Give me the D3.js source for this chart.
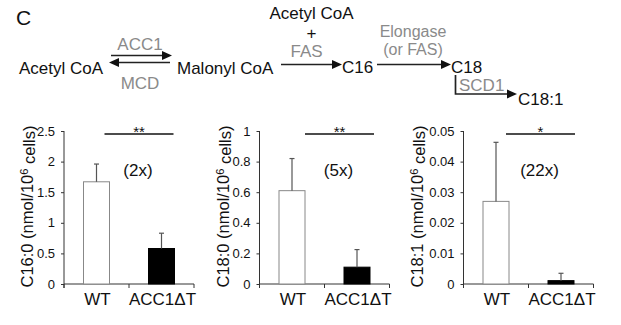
<!DOCTYPE html>
<html>
<head>
<meta charset="utf-8">
<script src="https://cdn.jsdelivr.net/npm/d3@7"></script>
<style>
  html, body { margin: 0; padding: 0; background: #fff; }
  svg { display: block; font-family: "Liberation Sans", Arial, Helvetica, sans-serif; }
</style>
</head>
<body>
<svg id="chart" width="621" height="325"></svg>
<script>
// ---------- data ----------
const categories = ["WT", "ACC1\u0394T"];

const c160Means = [1.67, 0.58];
const c160Errors = [0.29, 0.25];
const c160Ticks = [0, 0.5, 1, 1.5, 2, 2.5];
const c160TickLabels = ["0", "0.5", "1", "1.5", "2", "2.5"];

const c180Means = [0.61, 0.11];
const c180Errors = [0.21, 0.115];
const c180Ticks = [0, 0.2, 0.4, 0.6, 0.8, 1];
const c180TickLabels = ["0", "0.2", "0.4", "0.6", "0.8", "1"];

const c181Means = [0.027, 0.0011];
const c181Errors = [0.0193, 0.0024];
const c181Ticks = [0, 0.01, 0.02, 0.03, 0.04, 0.05];
const c181TickLabels = ["0", "0.01", "0.02", "0.03", "0.04", "0.05"];

const yTitles = ["C16:0", "C18:0", "C18:1"];
const foldLabels = ["(2x)", "(5x)", "(22x)"];
const sigLabels = ["**", "**", "*"];

// ---------- layout ----------
const svg = d3.select("#chart");
svg.append("rect").attr("width", 621).attr("height", 325).attr("fill", "#fff");

const panels = [
  { means: c160Means, errs: c160Errors, ticks: c160Ticks, tl: c160TickLabels, x0: 64,    titleOff: 31, sigShift: 0 },
  { means: c180Means, errs: c180Errors, ticks: c180Ticks, tl: c180TickLabels, x0: 259.5, titleOff: 31, sigShift: 5 },
  { means: c181Means, errs: c181Errors, ticks: c181Ticks, tl: c181TickLabels, x0: 463.5, titleOff: 41, sigShift: 2 }
];
const plotW = 130, yTop = 131, yBot = 284;
const axisColor = "#333";
const txt = "#111";

panels.forEach((p, i) => {
  const g = svg.append("g");
  const x = d3.scaleBand().domain(categories).range([p.x0, p.x0 + plotW])
    .paddingInner(0.6).paddingOuter(0.3);
  const y = d3.scaleLinear().domain([0, p.ticks[p.ticks.length - 1]]).range([yBot, yTop]);

  // y axis
  const yAxis = d3.axisLeft(y).tickValues(p.ticks).tickSize(3).tickPadding(6)
    .tickFormat((d, k) => p.tl[k]);
  const ya = g.append("g").attr("transform", `translate(${p.x0},0)`).call(yAxis);
  ya.select(".domain").attr("d", `M0,${yTop}V${yBot + 4}`).attr("stroke", axisColor);
  ya.selectAll(".tick line").attr("stroke", axisColor);
  ya.selectAll(".tick text").attr("font-size", 13).attr("fill", txt)
    .attr("font-family", '"Liberation Sans", Arial, sans-serif');

  // x axis line with category-boundary ticks
  const xr = x.range();
  const stepFull = (xr[1] - xr[0]) / categories.length;
  g.append("line").attr("x1", xr[0]).attr("x2", xr[1]).attr("y1", yBot).attr("y2", yBot)
    .attr("stroke", axisColor);
  [0, 1, 2].forEach(k => {
    const xx = xr[0] + k * stepFull;
    g.append("line").attr("x1", xx).attr("x2", xx).attr("y1", yBot).attr("y2", yBot + 4)
      .attr("stroke", axisColor);
  });

  // x labels
  categories.forEach(c => {
    g.append("text").attr("x", x(c) + x.bandwidth() / 2 + 1).attr("y", 305)
      .attr("text-anchor", "middle").attr("font-size", 17).attr("fill", txt).text(c);
  });

  // bars + error bars
  categories.forEach((c, k) => {
    g.append("rect").attr("x", x(c)).attr("width", x.bandwidth())
      .attr("y", y(p.means[k])).attr("height", yBot - y(p.means[k]))
      .attr("fill", k === 0 ? "#fff" : "#000")
      .attr("stroke", k === 0 ? "#888" : "#000").attr("stroke-width", 1);
    const cx = x(c) + x.bandwidth() / 2;
    const top = y(p.means[k] + p.errs[k]);
    g.append("line").attr("x1", cx).attr("x2", cx).attr("y1", y(p.means[k])).attr("y2", top)
      .attr("stroke", "#555").attr("stroke-width", 1.2);
    g.append("line").attr("x1", cx - 2.5).attr("x2", cx + 2.5).attr("y1", top).attr("y2", top)
      .attr("stroke", "#555").attr("stroke-width", 1.2);
  });

  // significance bar
  const sx1 = x(categories[0]) + x.bandwidth() / 2 + 8 + p.sigShift;
  const sx2 = x(categories[1]) + x.bandwidth() / 2 + 12 + p.sigShift;
  const sy = 134;
  g.append("line").attr("x1", sx1).attr("x2", sx2).attr("y1", sy).attr("y2", sy)
    .attr("stroke", txt).attr("stroke-width", 1.3);
  g.append("text").attr("x", (sx1 + sx2) / 2).attr("y", sy + 2.5).attr("text-anchor", "middle")
    .attr("font-size", 15).attr("fill", txt).text(sigLabels[i]);
  g.append("text").attr("x", (sx1 + sx2) / 2 - 1).attr("y", 176).attr("text-anchor", "middle")
    .attr("font-size", 17).attr("fill", txt).text(foldLabels[i]);

  // y title
  const t = g.append("text")
    .attr("transform", `translate(${p.x0 - p.titleOff},${(yTop + yBot) / 2 - 1}) rotate(-90)`)
    .attr("text-anchor", "middle").attr("font-size", 16.5).attr("fill", txt);
  t.append("tspan").text(yTitles[i] + " (nmol/10");
  t.append("tspan").attr("dy", "-0.45em").attr("font-size", 11).text("6");
  t.append("tspan").attr("dy", "0.45em").text(" cells)");
});

// ---------- pathway diagram ----------
const dg = svg.append("g");
const gray = "#8a8a8a";
function label(s, x, y, opts = {}) {
  dg.append("text").attr("x", x).attr("y", y)
    .attr("text-anchor", opts.anchor || "start")
    .attr("font-size", opts.size || 17)
    .attr("fill", opts.color || txt).text(s);
}
function arrow(pts) {
  const n = pts.length;
  const [tx, ty] = pts[n - 1];
  const [px, py] = pts[n - 2];
  const len = Math.hypot(tx - px, ty - py);
  const ux = (tx - px) / len, uy = (ty - py) / len;
  const head = 10, hw = 4.5;
  const bx = tx - ux * head, by = ty - uy * head;
  const linePts = pts.slice(0, n - 1).concat([[bx, by]]);
  dg.append("path").attr("d", d3.line()(linePts)).attr("fill", "none")
    .attr("stroke", "#222").attr("stroke-width", 1.7);
  dg.append("path")
    .attr("d", `M${tx},${ty}L${bx - uy * hw},${by + ux * hw}L${bx + uy * hw},${by - ux * hw}Z`)
    .attr("fill", "#111");
}

label("C", 16, 25, { size: 21 });
label("Acetyl CoA", 19, 73.5);
label("ACC1", 140, 50, { anchor: "middle", color: gray });
arrow([[111, 55.5], [172, 55.5]]);
arrow([[170, 62.5], [109, 62.5]]);
label("MCD", 140, 88.5, { anchor: "middle", color: gray });
label("Malonyl CoA", 177, 73.5);
label("Acetyl CoA", 311.5, 18.5, { anchor: "middle" });
label("+", 311.5, 38.5, { anchor: "middle" });
label("FAS", 306.5, 56.5, { anchor: "middle", color: gray });
arrow([[281, 64.5], [342, 64.5]]);
label("C16", 342, 72.5);
label("Elongase", 413, 37, { anchor: "middle", color: gray, size: 16 });
label("(or FAS)", 413, 55, { anchor: "middle", color: gray, size: 16 });
arrow([[377, 64.5], [451, 64.5]]);
label("C18", 451, 72.5);
arrow([[455.5, 75], [455.5, 94], [517, 94]]);
label("SCD1", 459, 91, { color: gray });
label("C18:1", 518, 104.5);
</script>
</body>
</html>
